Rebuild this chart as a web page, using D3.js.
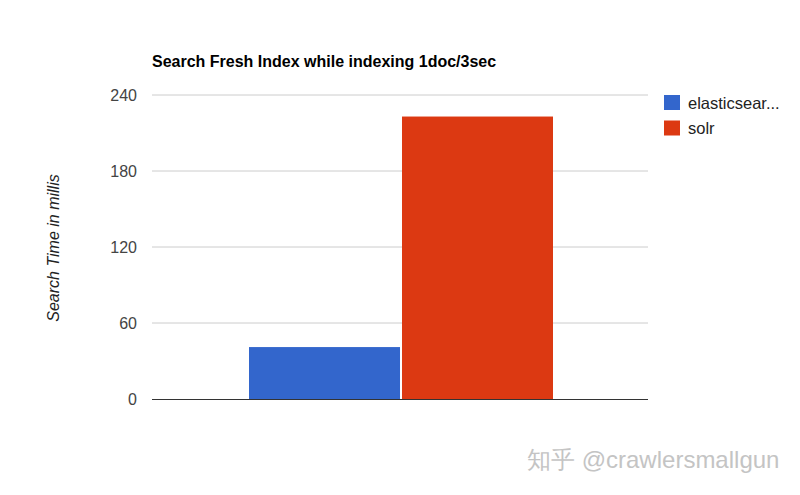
<!DOCTYPE html>
<html>
<head>
<meta charset="utf-8">
<script src="https://cdn.jsdelivr.net/npm/d3@7"></script>
<style>
  body { margin: 0; background: #fff; }
  text { font-family: "Liberation Sans", Arial, sans-serif; }
</style>
</head>
<body>
<div id="chart"></div>
<script>
const width = 800;
const height = 495;

// data
const series = ["elasticsearch", "solr"];
const legendLabels = ["elasticsear...", "solr"];
const values = [41, 223];
const colors = ["#3366cc", "#dc3912"];
const yTicks = [0, 60, 120, 180, 240];

const plot = { left: 152, right: 648, top: 95, bottom: 399 };

const svg = d3.select("#chart").append("svg")
  .attr("width", width)
  .attr("height", height);

const y = d3.scaleLinear()
  .domain([0, 240])
  .range([plot.bottom, plot.top]);

// one category, two series side by side
const x = d3.scaleBand()
  .domain(series)
  .range([249, 553])
  .paddingInner(0.013);

// gridlines
svg.append("g")
  .selectAll("line")
  .data(yTicks.filter(d => d !== 0))
  .enter()
  .append("line")
  .attr("x1", plot.left)
  .attr("x2", plot.right)
  .attr("y1", d => y(d))
  .attr("y2", d => y(d))
  .attr("stroke", "#cccccc")
  .attr("stroke-width", 1);

// tick labels
svg.append("g")
  .selectAll("text")
  .data(yTicks)
  .enter()
  .append("text")
  .attr("x", 137)
  .attr("y", d => y(d))
  .attr("dy", "0.36em")
  .attr("text-anchor", "end")
  .attr("font-size", 16)
  .attr("fill", "#444")
  .text(d => d);

// bars
svg.append("g")
  .selectAll("rect")
  .data(values)
  .enter()
  .append("rect")
  .attr("x", (d, i) => x(series[i]))
  .attr("y", d => y(d))
  .attr("width", x.bandwidth())
  .attr("height", d => y(0) - y(d))
  .attr("fill", (d, i) => colors[i]);

// baseline
svg.append("line")
  .attr("x1", plot.left)
  .attr("x2", plot.right)
  .attr("y1", y(0) + 0.5)
  .attr("y2", y(0) + 0.5)
  .attr("stroke", "#333")
  .attr("stroke-width", 1);

// title
svg.append("text")
  .attr("x", 152)
  .attr("y", 67)
  .attr("font-size", 16)
  .attr("font-weight", "bold")
  .attr("fill", "#000")
  .text("Search Fresh Index while indexing 1doc/3sec");

// y axis title
svg.append("text")
  .attr("transform", "translate(59,248) rotate(-90)")
  .attr("text-anchor", "middle")
  .attr("font-size", 16)
  .attr("font-style", "italic")
  .attr("fill", "#222")
  .text("Search Time in millis");

// legend
const legend = svg.append("g")
  .selectAll("g")
  .data(legendLabels)
  .enter()
  .append("g")
  .attr("transform", (d, i) => `translate(664,${95 + i * 25.5})`);

legend.append("rect")
  .attr("width", 16)
  .attr("height", 15)
  .attr("fill", (d, i) => colors[i]);

legend.append("text")
  .attr("x", 24)
  .attr("y", 13.5)
  .attr("font-size", 16.5)
  .attr("fill", "#222")
  .text(d => d);

// watermark
svg.append("text")
  .attr("x", 527)
  .attr("y", 468)
  .attr("font-size", 24)
  .attr("font-family", "'Noto Sans CJK SC', 'Noto Sans', sans-serif")
  .attr("fill", "#c4c4c4")
  .text("知乎 @crawlersmallgun");
</script>
</body>
</html>
